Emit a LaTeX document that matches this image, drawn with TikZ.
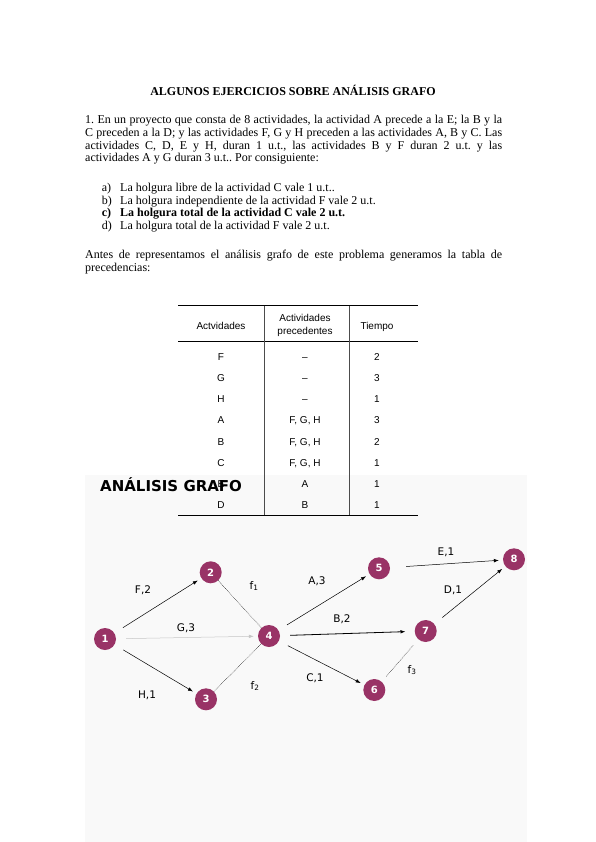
\documentclass[tikz,border=0pt]{standalone}
\usepackage{fontspec}
\setmainfont{Liberation Serif}
\setsansfont{Liberation Sans}
\newfontfamily\grafofont{DejaVu Sans}
\usepackage{xcolor}
\usepackage{tikz}
\usetikzlibrary{arrows.meta}
\definecolor{grafomorado}{RGB}{153,51,102}
\definecolor{fondogris}{RGB}{249,249,249}
\frenchspacing

\tikzset{
  evento/.style={circle,fill=grafomorado,minimum size=22pt,inner sep=0pt,
                 text=white,font=\grafofont\bfseries\fontsize{10}{11}\selectfont},
  actividad/.style={-{Latex[length=5pt,width=3.6pt]},line width=0.5pt,
                    shorten <=10pt,shorten >=4pt},
  ficticia/.style={densely dotted,line width=0.5pt},
  etiqueta/.style={font=\grafofont\fontsize{10.5}{12}\selectfont,inner sep=0pt},
  linea/.style={anchor=base west,inner sep=0pt,font=\fontsize{12}{13}\selectfont},
  tabla/.style={anchor=base,inner sep=0pt,font=\sffamily\fontsize{10}{11}\selectfont},
}

\begin{document}
\begin{tikzpicture}[x=1pt,y=-1pt]
\useasboundingbox (0,0) rectangle (595,842);
\fill[white] (0,0) rectangle (595,842);
\fill[fondogris] (85,475) rectangle (527,842);

% enunciado
\node[anchor=base,inner sep=0pt,font=\bfseries\fontsize{12}{13}\selectfont] (titulo) at (293,96)
  {ALGUNOS EJERCICIOS SOBRE ANÁLISIS GRAFO};
\node[linea] (l1) at (85,124) {\makebox[417pt][s]{1. En un proyecto que consta de 8 actividades, la actividad A precede a la E; la B y la}};
\node[linea] (l2) at (85,136.6) {\makebox[417pt][s]{C preceden a la D; y las actividades F, G y H preceden a las actividades A, B y C. Las}};
\node[linea] (l3) at (85,149.3) {\makebox[417pt][s]{actividades C, D, E y H, duran 1 u.t., las actividades B y F duran 2 u.t. y las}};
\node[linea] (l4) at (85,162) {actividades A y G duran 3 u.t.. Por consiguiente:};

\node[linea] (ra) at (101.7,191.7) {\makebox[18.3pt][l]{a)}La holgura libre de la actividad C vale 1 u.t..};
\node[linea] (rb) at (101.7,204.3) {\makebox[18.3pt][l]{b)}La holgura independiente de la actividad F vale 2 u.t.};
\node[linea,font=\bfseries\fontsize{12}{13}\selectfont] (rc) at (101.7,217) {\makebox[18.3pt][l]{c)}La holgura total de la actividad C vale 2 u.t.};
\node[linea] (rd) at (101.7,229.7) {\makebox[18.3pt][l]{d)}La holgura total de la actividad F vale 2 u.t.};

\node[linea] (l5) at (85,258.3) {\makebox[417pt][s]{Antes de representamos el análisis grafo de este problema generamos la tabla de}};
\node[linea] (l6) at (85,271) {precedencias:};

% tabla de precedencias
\draw[line width=1pt] (178,305.7) -- (418,305.7);
\draw[line width=0.5pt] (178,341) -- (418,341);
\draw[line width=0.8pt] (178,515) -- (418,515);
\draw[line width=0.9pt,black!70] (264,305.7) -- (264,515);
\draw[line width=0.9pt,black!70] (349,305.7) -- (349,515);
\node[tabla] (cab1) at (221,329.5) {Actvidades};
\node[tabla] (cab2) at (305,321) {Actividades};
\node[tabla] (cab2b) at (305,334) {precedentes};
\node[tabla] (cab3) at (377,329.5) {Tiempo};
\foreach \act/\prec/\tiempo [count=\i] in
  {F/--/2, G/--/3, H/--/1, A/{F, G, H}/3, B/{F, G, H}/2, C/{F, G, H}/1, E/A/1, D/B/1}{
  \node[tabla] (act\i) at (221,{360.3+21.2*(\i-1)}) {\act};
  \node[tabla] (prec\i) at (305,{360.3+21.2*(\i-1)}) {\prec};
  \node[tabla] (tiempo\i) at (377,{360.3+21.2*(\i-1)}) {\tiempo};
}

\node[anchor=base west,inner sep=0pt,font=\grafofont\bfseries\fontsize{15}{18}\selectfont]
  (subtitulo) at (100,491.5) {ANÁLISIS GRAFO};

% grafo
\node[evento] (n1) at (105,639) {1};
\node[evento] (n2) at (210.7,572.3) {2};
\node[evento] (n3) at (206,699.3) {3};
\node[evento] (n4) at (269,636) {4};
\node[evento] (n5) at (379,568.3) {5};
\node[evento] (n6) at (374.3,690) {6};
\node[evento] (n7) at (425.7,631) {7};
\node[evento] (n8) at (514,559.3) {8};

\draw[actividad] (n1) -- (n2);
\draw[actividad,gray!45] (n1) -- (n4);
\draw[actividad] (n1) -- (n3);
\draw[ficticia] (n2) -- (n4);
\draw[ficticia] (n3) -- (n4);
\draw[actividad] (n4) -- (n5);
\draw[actividad,line width=0.8pt,shorten >=9pt] (n4) -- (n7);
\draw[actividad] (n4) -- (n6);
\draw[actividad,shorten <=16pt] (n5) -- (n8);
\draw[actividad] (n7) -- (n8);
\draw[ficticia,shorten <=7pt,shorten >=8pt] (n6) -- (n7);

\node[etiqueta] (eF) at (143,590) {F,2};
\node[etiqueta] (eG) at (186,628) {G,3};
\node[etiqueta] (eH) at (147,695) {H,1};
\node[etiqueta] (ef1) at (254,586) {f\textsubscript{1}};
\node[etiqueta] (ef2) at (255,686) {f\textsubscript{2}};
\node[etiqueta] (eA) at (317,581) {A,3};
\node[etiqueta] (eB) at (342,619) {B,2};
\node[etiqueta] (eC) at (315,678) {C,1};
\node[etiqueta] (eE) at (446,552) {E,1};
\node[etiqueta] (eD) at (453,590) {D,1};
\node[etiqueta] (ef3) at (412,670) {f\textsubscript{3}};
\end{tikzpicture}
\end{document}
